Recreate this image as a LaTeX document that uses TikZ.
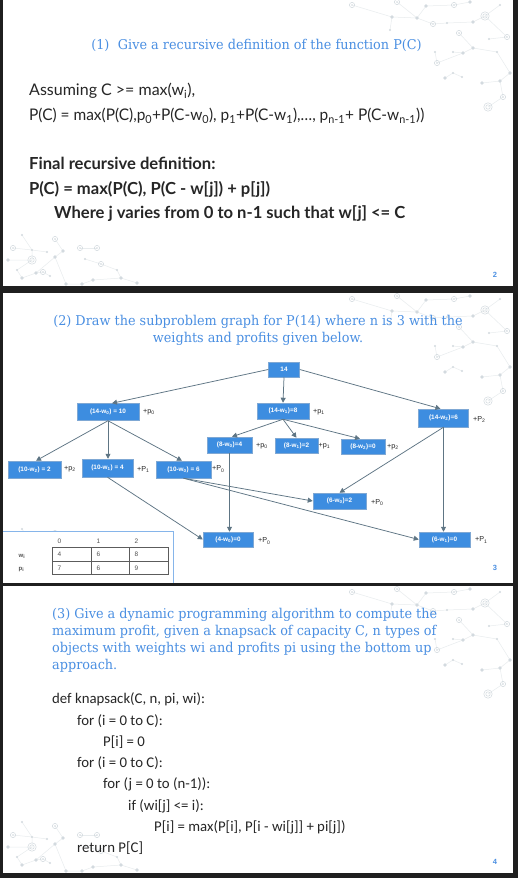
\documentclass[tikz,border=0pt]{standalone}
\usepackage{fontspec}
\setmainfont{Lato}
\newfontfamily\slabfont{DejaVu Serif}
\newfontfamily\bodyfnt{Lato}
\newfontfamily\codefnt{Carlito}
\newfontfamily\arialfnt{Liberation Sans}
\usetikzlibrary{arrows.meta,calc}
\definecolor{bgdark}{HTML}{1F1F1F}
\definecolor{titleblue}{HTML}{4A8FE2}
\definecolor{nodeblue}{HTML}{3D8DE0}
\definecolor{nodeline}{HTML}{7FA8D4}
\definecolor{edgecol}{HTML}{5E7584}
\definecolor{textcol}{HTML}{262626}
\definecolor{decodot}{HTML}{D3DADF}
\definecolor{decoline}{HTML}{E8ECEE}
\definecolor{boxblue}{HTML}{86B5EA}
\newcommand{\sbs}[1]{\textsubscript{#1}}
\newcommand{\slabtext}[1]{\scalebox{0.95}[1]{#1}}
\newcommand{\decor}{%
  \begin{scope}[draw=decoline,line width=0.5pt]
    % top right lines
    \draw (352,5)--(392,17)--(417,18)--(426,6);
    \draw (392,17)--(390,30);
    \draw (426,6)--(454,5)--(470,2);
    \draw (417,18)--(433,24)--(447,23)--(473,22)--(485,16)--(500,5);
    \draw (485,16)--(507,37)--(489,39);
    \draw (459,33)--(473,48)--(463,53)--(453,52);
    \draw (435,52)--(437,63)--(463,53);
    \draw (473,48)--(497,52)--(510,73);
    \draw (445,78)--(453,73)--(462,77);
    \draw (482,83)--(500,81)--(510,73);
    \draw (500,81)--(503,97)--(488,107);
    \draw (397,2)--(417,18);
    % bottom left lines
    \draw (22,235)--(32,250)--(32,260)--(8,260);
    \draw (13,248)--(32,250)--(47,252);
    \draw (55,239)--(63,251)--(55,257)--(36,273);
    \draw (55,257)--(66,284)--(82,284)--(93,280)--(121,278)--(137,283);
    \draw (80,248)--(97,248);
    \draw (85,259)--(101,264)--(117,270)--(121,278);
    \draw (17,270)--(22,278)--(36,273)--(43,272)--(50,276);
    \draw (32,260)--(17,270);
  \end{scope}
  \begin{scope}[fill=decodot]
    \foreach \p in {(392,17),(417,18),(426,6),(470,2),(473,22),(473,48),(463,53),(445,78),(482,83),(500,81),(510,73),
                    (63,251),(8,260),(55,257),(36,273),(22,278),(93,280),(121,278),(66,284),(82,284),(137,283)}
      \fill \p circle (1.9);
    \foreach \p in {(390,30),(447,23),(500,5),(489,39),(453,52),(435,52),(453,73),(462,77),(497,52),
                    (22,235),(32,250),(47,252),(85,259),(17,270),(50,276),(117,270)}
      \fill \p circle (1.1);
  \end{scope}
  \begin{scope}[draw=decodot,line width=0.5pt]
    \foreach \p in {(352,5),(397,2),(433,24),(454,5),(507,37),(459,33),(437,63),(503,97),
                    (55,239),(13,248),(80,248),(97,248),(101,264),(43,272)}
      {\draw \p circle (2.6); \fill[decodot] \p circle (0.8);}
    \foreach \p in {(485,16),(488,107),(32,260)}
      {\draw \p circle (4.2); \draw \p circle (2.2);}
  \end{scope}}
\tikzset{
  gnode/.style={fill=nodeblue,draw=nodeline,line width=0.5pt,text=white,
    font=\arialfnt\bfseries\fontsize{6.4}{7}\selectfont,inner sep=0pt,minimum height=16pt},
  plab/.style={anchor=west,inner sep=0pt,text=textcol,font=\arialfnt\fontsize{7.2}{8}\selectfont},
  edge/.style={draw=edgecol,line width=0.75pt,-{Triangle[length=5pt,width=5pt]}},
  slabtitle/.style={anchor=base,inner sep=0pt,text=titleblue,font=\slabfont\fontsize{13.5}{16}\selectfont},
  bodyline/.style={anchor=base west,inner sep=0pt,text=textcol,font=\bodyfnt\fontsize{16}{20}\selectfont},
  boldline/.style={anchor=base west,inner sep=0pt,text=textcol,font=\bodyfnt\bfseries\fontsize{16.6}{20}\selectfont},
  codeline/.style={anchor=base west,inner sep=0pt,text=textcol,font=\codefnt\fontsize{14.8}{18}\selectfont},
  pagenum/.style={inner sep=0pt,text=titleblue,font=\arialfnt\bfseries\fontsize{7.5}{8}\selectfont},
  tabtxt/.style={anchor=base west,inner sep=0pt,text=textcol!80,font=\arialfnt\fontsize{6.5}{7}\selectfont},
}
\begin{document}
\begin{tikzpicture}[x=1pt,y=-1pt]
\useasboundingbox (0,0) rectangle (518,878);
\fill[bgdark] (0,0) rectangle (518,878);
% ---------- slide 1 ----------
\fill[white] (3,-1) rectangle (513,286);
\begin{scope}
  \clip (3,-1) rectangle (513,286);
  \decor
\end{scope}
\node[slabtitle] (t1) at (256.5,49) {\slabtext{(1)\hspace{9pt}Give a recursive definition of the function P(C)}};
\node[bodyline] (s1a) at (29,95.7) {Assuming C >= max(w\sbs{i}),};
\node[bodyline] (s1b) at (29,120.7) {\scalebox{0.965}[1]{P(C) = max(P(C),p\sbs{0}+P(C-w\sbs{0}), p\sbs{1}+P(C-w\sbs{1}),…, p\sbs{n-1}+ P(C-w\sbs{n-1}))}};
\node[boldline] (s1c) at (29,169) {Final recursive definition:};
\node[boldline] (s1d) at (29,194) {P(C) = max(P(C), P(C - w[j]) + p[j])};
\node[boldline] (s1e) at (54,218.3) {Where j varies from 0 to n-1 such that w[j] <= C};
\node[pagenum] (pg2) at (495,275) {2};
% ---------- slide 2 ----------
\fill[white] (3,293) rectangle (513,583);
\begin{scope}
  \clip (3,293) rectangle (513,583);
  \begin{scope}[yshift=-294pt]\decor\end{scope}
\end{scope}
\node[slabtitle] (t2a) at (258,325) {\slabtext{(2) Draw the subproblem graph for P(14) where n is 3 with the}};
\node[slabtitle] (t2b) at (258,342.3) {\slabtext{weights and profits given below.}};
% graph nodes
\node[gnode,minimum width=31pt,minimum height=15pt] (n14) at (284,369.5) {14};
\node[gnode,minimum width=62pt,minimum height=17pt] (a10) at (108,412) {(14-w\sbs{0}) = 10};
\node[gnode,minimum width=52pt] (a8) at (283,411) {(14-w\sbs{1})=8};
\node[gnode,minimum width=50pt,minimum height=18pt] (a6) at (443.5,418) {(14-w\sbs{2})=6};
\node[gnode,minimum width=45pt] (b4) at (229.5,445) {(8-w\sbs{0})=4};
\node[gnode,minimum width=43pt,minimum height=15pt] (b2) at (296.5,445.5) {(8-w\sbs{1})=2};
\node[gnode,minimum width=44pt,minimum height=15pt] (b0) at (363,446.5) {(8-w\sbs{2})=0};
\node[gnode,minimum width=53pt,minimum height=17pt] (c2) at (34.5,469.5) {(10-w\sbs{2}) = 2};
\node[gnode,minimum width=51pt,minimum height=18pt] (c4) at (107.5,468) {(10-w\sbs{1}) = 4};
\node[gnode,minimum width=55pt,minimum height=17pt] (c6) at (183.5,469.5) {(10-w\sbs{0}) = 6};
\node[gnode,minimum width=53pt] (d2) at (339.5,501) {(6-w\sbs{0})=2};
\node[gnode,minimum width=50pt,minimum height=15pt] (e0) at (228,539.5) {(4-w\sbs{0})=0};
\node[gnode,minimum width=51pt,minimum height=15pt] (f0) at (444.5,539.5) {(6-w\sbs{1})=0};
% profit labels
\node[plab] (la10) at (143,412.5) {+p\sbs{0}};
\node[plab] (la8) at (313,412.5) {+p\sbs{1}};
\node[plab] (la6) at (473,419.5) {+P\sbs{2}};
\node[plab] (lb4) at (256,446.5) {+p\sbs{0}};
\node[plab] (lb2) at (318.5,446.5) {+p\sbs{1}};
\node[plab] (lb0) at (387,447.5) {+p\sbs{2}};
\node[plab] (lc2) at (64,469) {+p\sbs{2}};
\node[plab] (lc4) at (137,469.5) {+P\sbs{1}};
\node[plab] (lc6) at (212,469) {+P\sbs{0}};
\node[plab] (ld2) at (371,502.5) {+P\sbs{0}};
\node[plab] (le0) at (258,541) {+P\sbs{0}};
\node[plab] (lf0) at (475,540) {+P\sbs{1}};
% edges
\draw[edge] (n14.west) -- ($(a10.north)+(4,0)$);
\draw[edge] (n14.south) -- (a8.north);
\draw[edge] (n14.east) -- ($(a6.north)+(-3,0)$);
\draw[edge] (a10.south) -- ($(c2.north)+(1.5,0)$);
\draw[edge] (a10.south) -- (a10.south |- c4.north);
\draw[edge] (a10.south) -- ($(c6.north)+(-1.5,0)$);
\draw[edge] (a8.south) -- ($(b4.north)+(2.5,0)$);
\draw[edge] (a8.south) -- (b2.north);
\draw[edge] (a8.south) -- ($(b0.north)+(-3,0)$);
\draw[edge] (a6.south) -- (d2.north);
\draw[edge] (a6.south) -- (a6.south |- f0.north);
\draw[edge] (b4.south) -- (b4.south |- e0.north);
\draw[edge] (c4.south) -- (e0.west);
\draw[edge] (c6.south) -- (d2.west);
\draw[edge] (c6.south) -- (f0.west);
% table box
\fill[white] (3,531) rectangle (173,583);
\draw[boxblue,line width=0.8pt] (3,531) -- (173,531) -- (173,583);
\draw[textcol!75,line width=0.8pt] (52,547) rectangle (168,574);
\draw[textcol!75,line width=0.8pt] (52,561) -- (168,561) (91,547) -- (91,574) (129,547) -- (129,574);
\node[tabtxt] (h0) at (57.5,543.5) {0};
\node[tabtxt] (h1) at (96.5,543.5) {1};
\node[tabtxt] (h2) at (134.5,543.5) {2};
\node[tabtxt,font=\arialfnt\bfseries\fontsize{6}{7}\selectfont] (rw) at (18.5,557) {w\sbs{i}};
\node[tabtxt,font=\arialfnt\bfseries\fontsize{6}{7}\selectfont] (rp) at (18.5,570) {p\sbs{i}};
\node[tabtxt] (v1) at (57.5,556.5) {4};
\node[tabtxt] (v2) at (96.5,556.5) {6};
\node[tabtxt] (v3) at (134.5,556.5) {8};
\node[tabtxt] (v4) at (57.5,570) {7};
\node[tabtxt] (v5) at (96.5,570) {6};
\node[tabtxt] (v6) at (134.5,570) {9};
\node[pagenum] (pg3) at (495,568) {3};
% ---------- slide 3 ----------
\fill[white] (3,586) rectangle (513,873);
\begin{scope}
  \clip (3,586) rectangle (513,873);
  \begin{scope}[yshift=-587pt]\decor\end{scope}
\end{scope}
\node[slabtitle,anchor=base west] (t3a) at (52,618.3) {\slabtext{(3) Give a dynamic programming algorithm to compute the}};
\node[slabtitle,anchor=base west] (t3b) at (52,635.3) {\slabtext{maximum profit, given a knapsack of capacity C, n types of}};
\node[slabtitle,anchor=base west] (t3c) at (52,652.3) {\slabtext{objects with weights wi and profits pi using the bottom up}};
\node[slabtitle,anchor=base west] (t3d) at (52,669.3) {\slabtext{approach.}};
\node[codeline] (c1) at (52,703.3) {def knapsack(C, n, pi, wi):};
\node[codeline] (c2l) at (77,725.3) {for (i = 0 to C):};
\node[codeline] (c3) at (103,746.3) {P[i] = 0};
\node[codeline] (c4l) at (77,767.3) {for (i = 0 to C):};
\node[codeline] (c5) at (103,788.3) {for (j = 0 to (n-1)):};
\node[codeline] (c6l) at (128,810) {if (wi[j] <= i):};
\node[codeline] (c7) at (154,831.7) {P[i] = max(P[i], P[i - wi[j]] + pi[j])};
\node[codeline] (c8) at (77,852.3) {return P[C]};
\node[pagenum] (pg4) at (495,862) {4};
\end{tikzpicture}
\end{document}
